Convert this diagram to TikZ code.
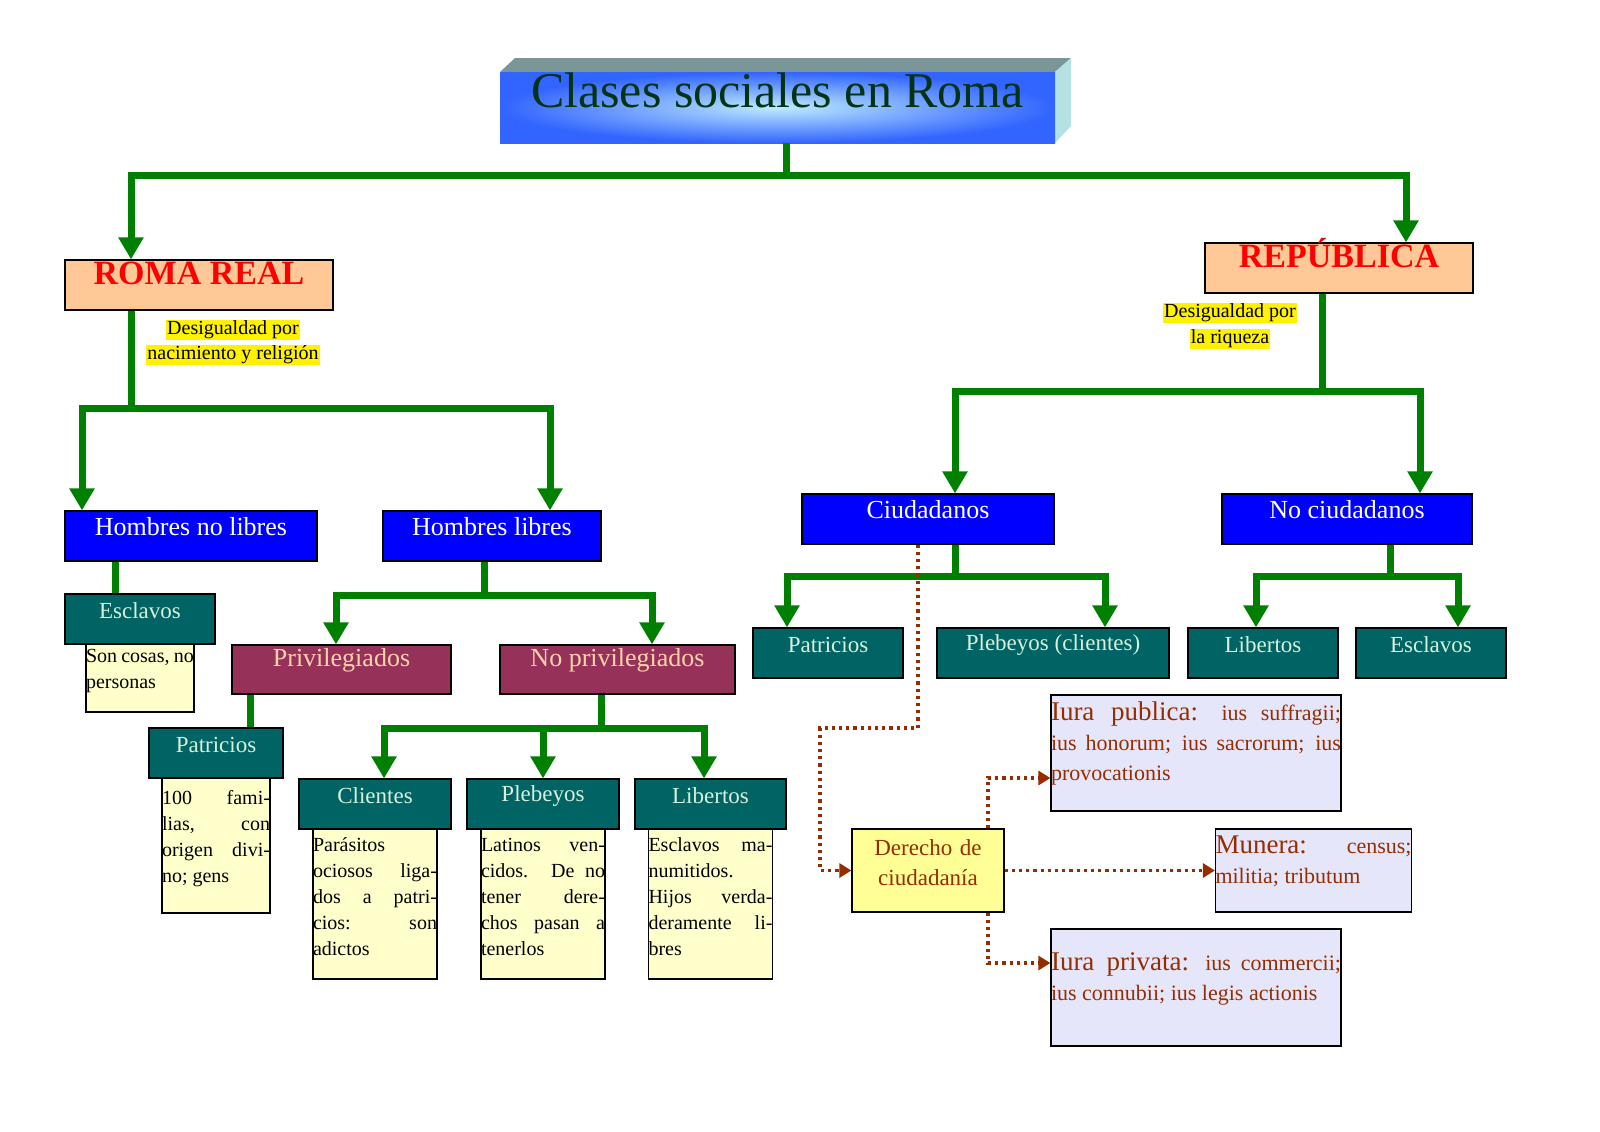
\documentclass[tikz,border=0pt]{standalone}
\usepackage{fontspec}
\setmainfont{Liberation Serif}
\usetikzlibrary{fit,arrows.meta}
\definecolor{peach}{RGB}{255,200,150}
\definecolor{tealh}{RGB}{0,100,100}
\definecolor{tealt}{RGB}{215,240,220}
\definecolor{purp}{RGB}{150,50,90}
\definecolor{purpt}{RGB}{255,210,170}
\definecolor{paleyel}{RGB}{255,255,204}
\definecolor{dyel}{RGB}{255,255,150}
\definecolor{brn}{RGB}{150,45,0}
\definecolor{lav}{RGB}{230,230,250}
\definecolor{grn}{RGB}{0,128,0}
\definecolor{ttop}{RGB}{122,150,150}
\definecolor{tside}{RGB}{180,225,225}
\definecolor{tin}{RGB}{190,235,255}
\definecolor{tout}{RGB}{50,100,255}
\definecolor{ttxt}{RGB}{0,50,20}
\tikzset{
 bx/.style={draw=black,line width=0.6pt,fit={#1},inner sep=0pt},
 era/.style={fill=peach,text=red,font=\fontsize{17}{19}\selectfont\bfseries},
 blu/.style={fill=blue,text=white,font=\fontsize{13}{15}\selectfont},
 thd/.style={fill=tealh,text=tealt,font=\fontsize{11.5}{13}\selectfont},
 prp/.style={fill=purp,text=purpt,font=\fontsize{13}{15}\selectfont},
 bdy/.style={fill=paleyel,font=\fontsize{10}{13}\selectfont,text width=54pt,align=justify},
 lv/.style={fill=lav,text=brn,font=\fontsize{11}{15}\selectfont,align=justify},
 hlt/.style={fill=yellow,inner sep=0.5pt,font=\fontsize{10}{12}\selectfont},
 ga/.style={draw=grn,line width=3.5pt,-{Triangle[length=11pt,width=12pt]}},
 gl/.style={draw=grn,line width=3.5pt},
 da/.style={draw=brn,line width=1.6pt,dotted,-{Triangle[length=6pt,width=7pt]}},
}
\begin{document}
\begin{tikzpicture}[x=0.5pt,y=-0.5pt]
\useasboundingbox (0,0) rectangle (1600,1131);
% title
\fill[ttop] (500,72) -- (515,58) -- (1071,58) -- (1055,72) -- cycle;
\fill[tside] (1055,72) -- (1071,58) -- (1071,126) -- (1055,143) -- cycle;
\shade[inner color=tin,outer color=tout] (500,72) rectangle (1055,143);
\node[fit={(500,72)(1055,143)},inner sep=0pt,text=ttxt,font=\fontsize{25}{28}\selectfont] (t) {Clases sociales en Roma};
% era boxes
\node[bx={(65,260)(333,310)},era] (rr) {ROMA REAL};
\node[bx={(1205,243)(1473,293)},era] (rp) {REPÚBLICA};
\node[hlt] (h1) at (233,330) {Desigualdad por};
\node[hlt] (h2) at (233,355) {nacimiento y religión};
\node[hlt] (h3) at (1230,313) {Desigualdad por};
\node[hlt] (h4) at (1230,339) {la riqueza};
% level blue
\node[bx={(65,511)(317,561)},blu] (hnl) {Hombres no libres};
\node[bx={(383,511)(601,561)},blu] (hli) {Hombres libres};
\node[bx={(802,494)(1054,544)},blu] (ci) {Ciudadanos};
\node[bx={(1222,494)(1472,544)},blu] (nc) {No ciudadanos};
% left side
\node[bx={(65,594)(215,644)},thd] (es) {Esclavos};
\node[bx={(65,644)(215,712)},bdy] (esb) {Son cosas, no personas};
\node[bx={(232,645)(451,694)},prp] (pv) {Privilegiados};
\node[bx={(500,645)(735,694)},prp] (np) {No privilegiados};
\node[bx={(149,728)(283,778)},thd] (pa) {Patricios};
\node[bx={(149,778)(283,913)},bdy] (pab) {100 fami-\linebreak lias, con origen divi-\linebreak no; gens\par\vspace{12pt}};
\node[bx={(299,779)(451,829)},thd] (cl) {Clientes};
\node[bx={(299,829)(451,979)},bdy,text width=62pt] (clb) {Parásitos ociosos liga-\linebreak dos a patri-\linebreak cios: son adictos};
\node[bx={(467,779)(619,829)},thd] (pl) {Plebeyos};
\node[bx={(467,829)(619,979)},bdy,text width=62pt] (plb) {Latinos ven-\linebreak cidos. De no tener dere-\linebreak chos pasan a tenerlos};
\node[bx={(635,779)(786,829)},thd] (li) {Libertos};
\node[bx={(635,829)(786,979)},bdy,text width=62pt] (lib) {Esclavos ma-\linebreak numitidos. Hijos verda-\linebreak deramente li-\linebreak bres};
% right side
\node[bx={(753,628)(903,678)},thd] (pa2) {Patricios};
\node[bx={(937,628)(1169,678)},thd] (pl2) {Plebeyos (clientes)};
\node[bx={(1188,628)(1338,678)},thd] (li2) {Libertos};
\node[bx={(1356,628)(1506,678)},thd] (es2) {Esclavos};
\node[bx={(852,829)(1004,912)},fill=dyel,text=brn,align=center,font=\fontsize{11.5}{15}\selectfont] (de) {Derecho de\\ciudadanía};
\node[bx={(1037,695)(1355,811)},lv,text width=145pt] (ip) {{\fontsize{13.5}{15}\selectfont Iura publica:} ius suffragii; ius honorum; ius sacrorum; ius provocationis};
\node[bx={(1205,829)(1422,912)},lv,text width=98pt] (mu) {{\fontsize{13.5}{15}\selectfont Munera:} census; militia; tributum};
\node[bx={(1037,929)(1355,1046)},lv,text width=145pt] (ipr) {{\fontsize{13.5}{15}\selectfont Iura privata:} ius commercii; ius connubii; ius legis actionis};
% green connectors
\coordinate (j0) at (786,175);
\draw[gl] (t.south -| j0) -- (j0);
\draw[ga] (j0) -| (rr.north -| 131,0);
\draw[ga] (j0) -| (rp.north -| 1406,0);
\coordinate (j1) at (131,408);
\draw[gl] (rr.south -| j1) -- (j1);
\draw[ga] (j1) -| (hnl.north -| 82,0);
\draw[ga] (j1) -| (hli.north -| 550,0);
\coordinate (j2) at (1322,391);
\draw[gl] (rp.south -| j2) -- (j2);
\draw[ga] (j2) -| (ci.north -| 955,0);
\draw[ga] (j2) -| (nc.north -| 1420,0);
\draw[gl] (hnl.south -| 115,0) -- (es.north -| 115,0);
\coordinate (j3) at (484,595);
\draw[gl] (hli.south -| j3) -- (j3);
\draw[ga] (j3) -| (pv.north -| 336,0);
\draw[ga] (j3) -| (np.north -| 652,0);
\draw[gl] (pv.south -| 250,0) -- (pa.north -| 250,0);
\coordinate (j4) at (601,728);
\draw[gl] (np.south -| j4) -- (j4);
\draw[ga] (j4) -| (cl.north -| 384,0);
\draw[ga] (j4) -| (pl.north);
\draw[ga] (j4) -| (li.north -| 704,0);
\coordinate (j5) at (955,576);
\draw[gl] (ci.south -| j5) -- (j5);
\draw[ga] (j5) -| (pa2.north -| 787,0);
\draw[ga] (j5) -| (pl2.north -| 1105,0);
\coordinate (j6) at (1390,576);
\draw[gl] (nc.south -| j6) -- (j6);
\draw[ga] (j6) -| (li2.north -| 1256,0);
\draw[ga] (j6) -| (es2.north -| 1458,0);
% dotted connectors
\coordinate (d1) at (918,728);
\coordinate (d2) at (820,728);
\draw[da] (ci.south -| d1) -- (d1) -- (d2) |- (de.west);
\draw[da] (de.north -| 988,0) |- (ip.west |- 0,778);
\draw[da] (de.east) -- (mu.west);
\draw[da] (de.south -| 988,0) |- (ipr.west |- 0,963);
\end{tikzpicture}
\end{document}
